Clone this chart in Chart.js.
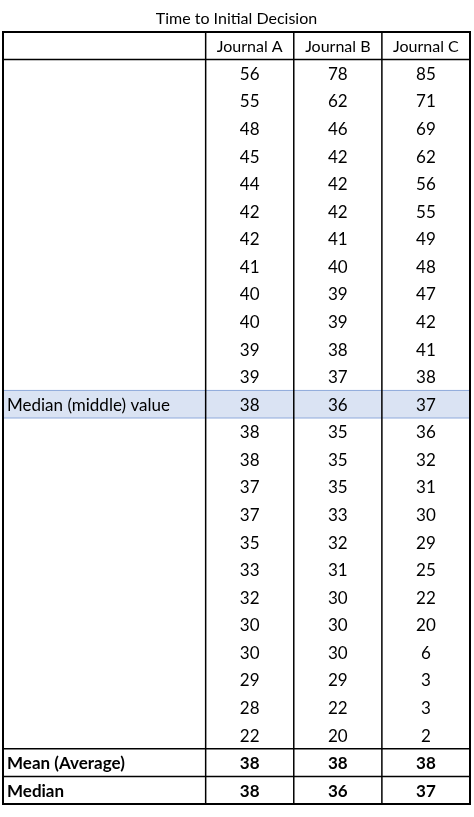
<!DOCTYPE html>
<html>
<head>
<meta charset="utf-8">
<script src="https://cdn.jsdelivr.net/npm/chart.js@4"></script>
<style>
  html, body { margin: 0; padding: 0; background: #fff; }
  #wrap { width: 474px; height: 817px; position: relative; }
</style>
</head>
<body>
<div id="wrap"><canvas id="table"></canvas></div>
<script>
const title = 'Time to Initial Decision';
const columns = ['Journal A', 'Journal B', 'Journal C'];
const journalA = [56, 55, 48, 45, 44, 42, 42, 41, 40, 40, 39, 39, 38, 38, 38, 37, 37, 35, 33, 32, 30, 30, 29, 28, 22];
const journalB = [78, 62, 46, 42, 42, 42, 41, 40, 39, 39, 38, 37, 36, 35, 35, 35, 33, 32, 31, 30, 30, 30, 29, 22, 20];
const journalC = [85, 71, 69, 62, 56, 55, 49, 48, 47, 42, 41, 38, 37, 36, 32, 31, 30, 29, 25, 22, 20, 6, 3, 3, 2];
const medianIndex = 12;
const summaryLabels = ['Mean (Average)', 'Median'];
const summaryA = [38, 38];
const summaryB = [38, 36];
const summaryC = [38, 37];
// column edges in x-scale units: label column, then 3 journals
const colEdges = [0, 2.3, 3.3, 4.3, 5.3];

const rowLabels = ['header'];
journalA.forEach((v, i) => rowLabels.push(i === medianIndex ? 'Median (middle) value' : ''));
summaryLabels.forEach(l => rowLabels.push(l));

const FONT = '"Lato", "Open Sans", sans-serif';

const tablePlugin = {
  id: 'tableDraw',
  afterDraw(chart) {
    const ctx = chart.ctx;
    const x = chart.scales.x, y = chart.scales.y;
    const n = rowLabels.length;
    const band = (y.bottom - y.top) / n;
    const top = i => y.getPixelForValue(i) - band / 2;
    const bot = i => y.getPixelForValue(i) + band / 2;
    const edges = colEdges.map(e => x.getPixelForValue(e));
    const L = edges[0], R = edges[edges.length - 1];
    ctx.save();

    // median row highlight
    ctx.fillStyle = '#dae3f3';
    ctx.fillRect(L, top(medianIndex + 1), R - L, band);

    // title
    ctx.fillStyle = '#000';
    ctx.font = '16px ' + FONT;
    ctx.textAlign = 'center';
    ctx.textBaseline = 'middle';
    ctx.fillText(title, (L + R) / 2, y.top - 13);

    // lines
    ctx.strokeStyle = '#000';
    const hline = (py, w) => { ctx.lineWidth = w; ctx.beginPath(); ctx.moveTo(L, py); ctx.lineTo(R, py); ctx.stroke(); };
    hline(bot(0), 1.5);
    ctx.strokeStyle = '#8ea9db';
    hline(top(medianIndex + 1), 1);
    hline(bot(medianIndex + 1), 1);
    ctx.strokeStyle = '#000';
    hline(top(n - 2), 1.5);
    hline(top(n - 1), 1.5);
    edges.slice(1, -1).forEach(px => {
      ctx.lineWidth = 1.5;
      ctx.beginPath(); ctx.moveTo(px, y.top); ctx.lineTo(px, y.bottom); ctx.stroke();
    });
    ctx.lineWidth = 2;
    ctx.strokeRect(L, y.top, R - L, y.bottom - y.top);

    // header
    ctx.font = '16px ' + FONT;
    columns.forEach((c, j) => ctx.fillText(c, (edges[j + 1] + edges[j + 2]) / 2, y.getPixelForValue(0) + 1));

    // body rows
    const series = [journalA, journalB, journalC];
    for (let i = 0; i < journalA.length; i++) {
      const py = y.getPixelForValue(i + 1) + 1;
      ctx.font = '17px ' + FONT;
      ctx.textAlign = 'center';
      series.forEach((s, j) => ctx.fillText(String(s[i]), (edges[j + 1] + edges[j + 2]) / 2, py));
      if (rowLabels[i + 1]) {
        ctx.textAlign = 'left';
        ctx.fillText(rowLabels[i + 1], L + 4, py);
      }
    }
    // summary rows
    const sums = [summaryA, summaryB, summaryC];
    summaryLabels.forEach((lab, k) => {
      const py = y.getPixelForValue(n - 2 + k) + 1;
      ctx.font = 'bold 17px ' + FONT;
      ctx.textAlign = 'left';
      ctx.fillText(lab, L + 4, py);
      ctx.textAlign = 'center';
      sums.forEach((s, j) => ctx.fillText(String(s[k]), (edges[j + 1] + edges[j + 2]) / 2, py));
    });
    ctx.restore();
  }
};

new Chart(document.getElementById('table'), {
  type: 'scatter',
  data: { labels: rowLabels, datasets: [{ data: [] }] },
  options: {
    responsive: true,
    maintainAspectRatio: false,
    animation: false,
    layout: { padding: { top: 32, bottom: 13, left: 3, right: 4 } },
    plugins: { legend: { display: false }, tooltip: { enabled: false } },
    scales: {
      x: { type: 'linear', min: colEdges[0], max: colEdges[colEdges.length - 1], display: false },
      y: { type: 'category', labels: rowLabels, offset: true, display: false }
    }
  },
  plugins: [tablePlugin]
});
</script>
</body>
</html>
